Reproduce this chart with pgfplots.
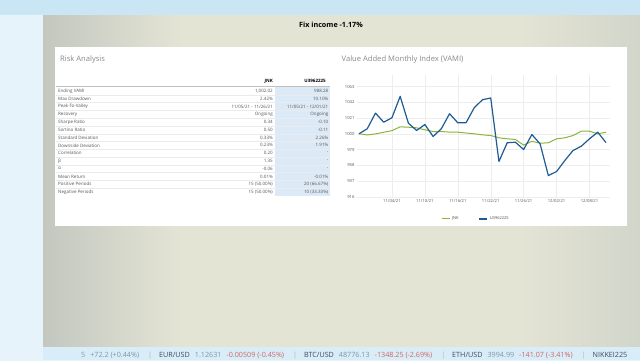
\documentclass[border=0pt]{standalone}
\usepackage{fontspec}
\setmainfont{Open Sans}
\usepackage{pgfplots}
\pgfplotsset{compat=1.18}
\definecolor{sky}{HTML}{C9E6F5}
\definecolor{skylight}{HTML}{E6F3FA}
\definecolor{panelL}{HTML}{C3C7BF}
\definecolor{panelM}{HTML}{E4E4D5}
\definecolor{panelR}{HTML}{D2D5CA}
\definecolor{colblue}{HTML}{DCEAF7}
\definecolor{serblue}{HTML}{1F5C94}
\definecolor{sergreen}{HTML}{8DB33C}
\definecolor{txt}{HTML}{555555}
\definecolor{ttl}{HTML}{8A8A8A}
\definecolor{tsym}{HTML}{3C4A5C}
\definecolor{tval}{HTML}{7F95A8}
\definecolor{tneg}{HTML}{D06464}
\newcommand{\tf}{\fontsize{4.5}{5}\selectfont}
\begin{document}
\begin{tikzpicture}[x=1pt,y=1pt]
\useasboundingbox (0,0) rectangle (640,360);
% background
\shade[top color=sky, bottom color=skylight] (0,0) rectangle (640,360);
\fill[skylight] (0,0) rectangle (43,345);
% panel
\shade[left color=panelL, right color=panelM] (43,13.3) rectangle (180,345);
\fill[panelM] (179.5,13.3) rectangle (520.5,345);
\shade[left color=panelM, right color=panelR] (520,13.3) rectangle (640,345);
% ticker bar
\fill[sky!70!white] (43,0) rectangle (640,13.3);
% title
\node[font=\fontsize{7.2}{8}\selectfont\bfseries, text=black] at (331,335.5) {Fix income -1.17\%};
% card
\fill[white] (55,134) rectangle (627,313);
\node[anchor=west, inner sep=0, font=\fontsize{7.6}{8}\selectfont, text=ttl] at (60,300.7) {Risk Analysis};
\node[anchor=west, inner sep=0, font=\fontsize{7.6}{8}\selectfont, text=ttl] at (341.5,300.7) {Value Added Monthly Index (VAMI)};
% table
\fill[colblue] (275,164) rectangle (330,273.3);
\draw[black!25, line width=0.5pt] (56,273.3) -- (330,273.3);
\foreach \i in {0,...,12} {
  \draw[black!8, line width=0.4pt] (56,{269-7.77*\i-3.9}) -- (330,{269-7.77*\i-3.9});
}
\node[anchor=east, inner sep=0, font=\tf\bfseries] at (273,279) {JNK};
\node[anchor=east, inner sep=0, font=\tf\bfseries] at (326,279) {U3962225};
\foreach \v [count=\i from 0] in {Ending VAMI,Max Drawdown,Peak-To-Valley,Recovery,Sharpe Ratio,Sortino Ratio,Standard Deviation,Downside Deviation,Correlation,β,α,Mean Return,Positive Periods,Negative Periods} {
  \node[anchor=west, inner sep=0, font=\tf, text=txt] at (58,{269-7.77*\i}) {\v};
}
\foreach \v [count=\i from 0] in {{1,002.02},2.42\%,11/05/21 - 11/26/21,Ongoing,0.34,0.50,0.33\%,0.23\%,0.20,1.35,-0.06,0.01\%,15 (50.00\%),15 (50.00\%)} {
  \node[anchor=east, inner sep=0, font=\tf, text=txt] at (273,{269-7.77*\i}) {\v};
}
\foreach \v [count=\i from 0] in {988.28,10.10\%,11/05/21 - 12/01/21,Ongoing,-0.10,-0.11,2.26\%,1.91\%,-,-,-,-0.01\%,20 (66.67\%),10 (33.33\%)} {
  \node[anchor=east, inner sep=0, font=\tf, text=txt] at (328.5,{269-7.77*\i}) {\v};
}
% chart
\begin{axis}[
  at={(357pt,163.3pt)}, anchor=south west,
  scale only axis, width=253pt, height=121.7pt,
  xmin=-0.243, xmax=30.49, ymin=916, ymax=1078.5,
  xtick={4,8,12,16,20,24,28},
  xticklabels={11/04/21,11/10/21,11/16/21,11/22/21,11/26/21,12/02/21,12/08/21},
  ytick={916,937,958,979,1000,1021,1042,1063},
  yticklabels={916,937,958,979,1000,1021,1042,1063},
  grid=major, major grid style={draw=black!7, line width=0.4pt},
  axis line style={draw=none}, major tick length=0pt,
  tick label style={font=\fontsize{4.2}{5}\selectfont, text=black!65},
  /pgf/number format/assume math mode=true,
  yticklabel style={xshift=1pt},
  xticklabel style={yshift=1pt},
  legend style={at={(0.47,-0.183)}, anchor=center, draw=none, fill=none,
    font=\fontsize{4}{4.5}\selectfont, text=black!70, legend columns=2,
    /tikz/every even column/.append style={column sep=18pt}},
  legend image code/.code={\draw[#1] (0pt,0pt) -- (8pt,0pt);},
]
\addplot[sergreen, line width=1pt, line join=round, mark=none] coordinates {
(0,1000) (1,998.5) (2,999.8) (3,1002) (4,1004.2) (5,1009.3) (6,1008.8) (7,1008)
(8,1005.3) (9,1003) (10,1003) (11,1002.2) (12,1002.2) (13,1001) (14,1000)
(15,998.6) (16,997.7) (17,994.6) (18,993.3) (19,992.4) (20,984.9) (21,990)
(22,987.4) (23,988) (24,993.3) (25,994.6) (26,997.7) (27,1003.5) (28,1003.5)
(29,1000) (30,1002.02)};
\addlegendentry{JNK}
\addplot[serblue, line width=1.2pt, line join=round, mark=none] coordinates {
(0,1000) (1,1006.7) (2,1027.6) (3,1015.5) (4,1021.4) (5,1050) (6,1014.2) (7,1004.4)
(8,1012.4) (9,996.4) (10,1006.7) (11,1026.8) (12,1014.7) (13,1014.7) (14,1034.8)
(15,1045.5) (16,1047.8) (17,963) (18,988) (19,988.8) (20,979) (21,999)
(22,986.6) (23,944.2) (24,949.6) (25,964.3) (26,977.7) (27,983.4) (28,993.3)
(29,1002.1) (30,988.28)};
\addlegendentry{U3962225}
\end{axis}
% ticker
\node[anchor=west, inner sep=0, font=\fontsize{7.2}{8}\selectfont] at (81,4.5) {%
\textcolor{tval}{5}\hspace{5pt}\textcolor{tval}{+72.2 (+0.44\%)}\hspace{9pt}\textcolor{black!30}{|}\hspace{7pt}%
\textcolor{tsym}{EUR/USD}\hspace{5pt}\textcolor{tval}{1.12631}\hspace{5pt}\textcolor{tneg}{-0.00509 (-0.45\%)}\hspace{9pt}\textcolor{black!30}{|}\hspace{7pt}%
\textcolor{tsym}{BTC/USD}\hspace{5pt}\textcolor{tval}{48776.13}\hspace{5pt}\textcolor{tneg}{-1348.25 (-2.69\%)}\hspace{9pt}\textcolor{black!30}{|}\hspace{7pt}%
\textcolor{tsym}{ETH/USD}\hspace{5pt}\textcolor{tval}{3994.99}\hspace{5pt}\textcolor{tneg}{-141.07 (-3.41\%)}\hspace{9pt}\textcolor{black!30}{|}\hspace{7pt}%
\textcolor{tsym}{NIKKEI225}};
\end{tikzpicture}
\end{document}
